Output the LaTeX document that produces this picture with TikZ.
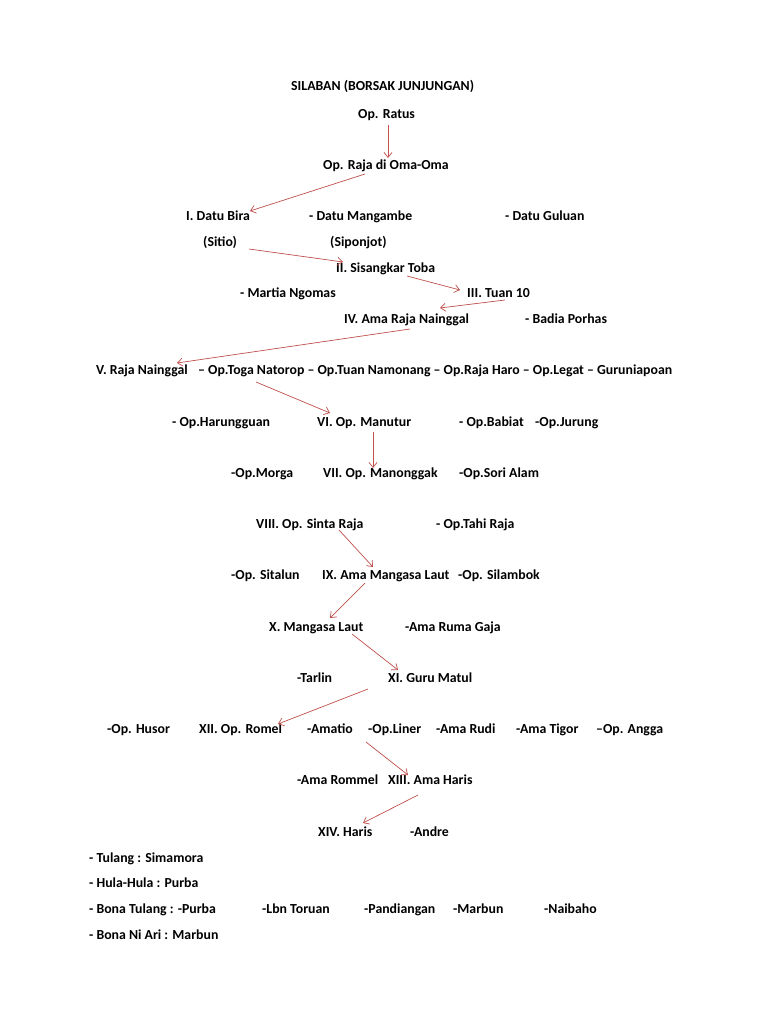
\documentclass[tikz,border=0pt]{standalone}
\usetikzlibrary{arrows.meta}
\usepackage{fontspec}
\setmainfont{Carlito}
\begin{document}
\begin{tikzpicture}[x=1pt,y=-1pt,
  t/.style={anchor=base west,inner sep=0pt,font=\fontsize{13.8}{16}\selectfont\bfseries},
  arr/.style={draw={rgb,255:red,192;green,80;blue,77},line width=0.7pt,-{Straight Barb[length=5pt,width=8pt]}}]
\useasboundingbox[fill=white] (0,0) rectangle (768,1024);
\foreach \n/\x/\y/\s in {
 a/291/86/{SILABAN (BORSAK JUNJUNGAN)},
 b/358/114/{Op. Ratus},
 c/323/165/{Op. Raja di Oma-Oma},
 d/186/216/{I. Datu Bira},
 e/309/216/{- Datu Mangambe},
 f/505/216/{- Datu Guluan},
 g/203/242/{(Sitio)},
 h/330/242/{(Siponjot)},
 i/336/268/{II. Sisangkar Toba},
 j/240/293/{- Martia Ngomas},
 k/467/293/{III. Tuan 10},
 l/344/319/{IV. Ama Raja Nainggal},
 m/525/319/{- Badia Porhas},
 n/96/370/{V. Raja Nainggal},
 o/198/370/{– Op.Toga Natorop – Op.Tuan Namonang – Op.Raja Haro – Op.Legat – Guruniapoan},
 p/172/422/{- Op.Harungguan},
 q/317/422/{VI. Op. Manutur},
 r/459/422/{- Op.Babiat},
 s/535/422/{-Op.Jurung},
 t1/231/473/{-Op.Morga},
 u/323/473/{VII. Op. Manonggak},
 v/459/473/{-Op.Sori Alam},
 w/256/524/{VIII. Op. Sinta Raja},
 x1/436/524/{- Op.Tahi Raja},
 y1/231/575/{-Op. Sitalun},
 z/322/575/{IX. Ama Mangasa Laut},
 aa/458/575/{-Op. Silambok},
 ab/269/627/{X. Mangasa Laut},
 ac/405/627/{-Ama Ruma Gaja},
 ad/297/678/{-Tarlin},
 ae/388/678/{XI. Guru Matul},
 af/107/729/{-Op. Husor},
 ag/199/729/{XII. Op. Romel},
 ah/307/729/{-Amatio},
 ai/368/729/{-Op.Liner},
 aj/436/729/{-Ama Rudi},
 ak/516/729/{-Ama Tigor},
 al/596/729/{–Op. Angga},
 am/297/780/{-Ama Rommel},
 an/388/780/{XIII. Ama Haris},
 ao/318/832/{XIV. Haris},
 ap/410/832/{-Andre},
 aq/89/858/{- Tulang : Simamora},
 ar/89/883/{- Hula-Hula : Purba},
 as/89/909/{- Bona Tulang : -Purba},
 at/262/909/{-Lbn Toruan},
 au/364/909/{-Pandiangan},
 av/453/909/{-Marbun},
 aw/544/909/{-Naibaho},
 ax/89/935/{- Bona Ni Ari : Marbun}}
 {\node[t] (\n) at (\x,\y+4.5) {\s};}
\foreach \i/\ax/\ay/\bx/\by in {1/388/125/388/158, 2/365/174/250/211, 3/249/249/343/262,
 4/407/276/460/290, 5/505/300/440/308, 6/410/329/177/363, 7/256/382/330/413,
 8/373/432/373/468, 9/339/530/373/567, 10/365/583/330/618, 11/352/634/398/670,
 12/368/689/278/724, 13/366/742/408/775, 14/418/795/363/823}
 {\coordinate (s\i) at (\ax,\ay); \coordinate (e\i) at (\bx,\by); \draw[arr] (s\i) -- (e\i);}
\end{tikzpicture}
\end{document}
